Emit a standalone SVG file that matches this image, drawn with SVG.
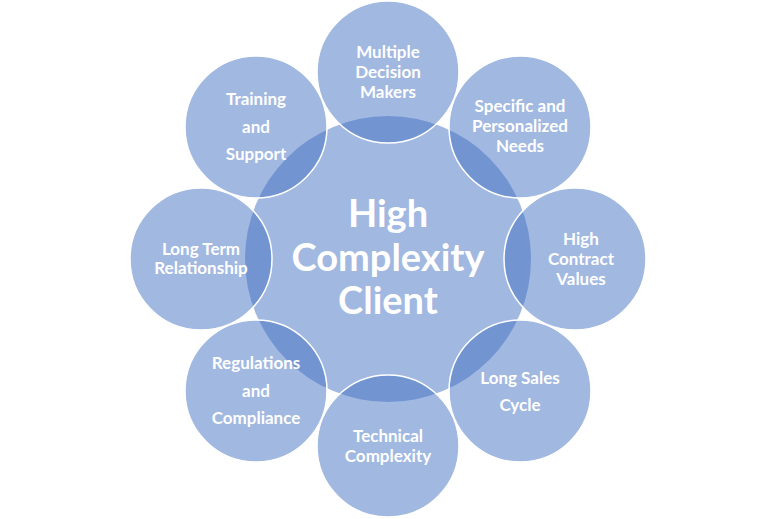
<svg xmlns="http://www.w3.org/2000/svg" width="777" height="519" viewBox="0 0 777 519">
<style>
.c{fill:#4472C4;fill-opacity:0.5;}
.s{fill:#4472C4;fill-opacity:0.5;stroke:#FFFFFF;stroke-width:1.5;}
.t{font-family:Lato,"Open Sans",sans-serif;font-weight:bold;font-size:17px;fill:#FFFFFF;text-anchor:middle;}
.h{font-family:Lato,"Open Sans",sans-serif;font-weight:bold;font-size:38px;fill:#FFFFFF;text-anchor:middle;}
</style>
<rect width="777" height="519" fill="#FFFFFF"/>
<g id="connectors"></g>
<g id="center">
<circle class="c" cx="388" cy="259" r="143"/>
<text class="h" x="388" y="227">High</text>
<text class="h" x="388" y="271">Complexity</text>
<text class="h" x="388" y="314">Client</text>
</g>
<g id="n-top">
<circle class="s" cx="388" cy="72" r="71"/>
<text class="t" x="388" y="58">Multiple</text>
<text class="t" x="388" y="78">Decision</text>
<text class="t" x="388" y="98">Makers</text>
</g>
<g id="n-topright">
<circle class="s" cx="520" cy="127" r="71"/>
<text class="t" x="520" y="112">Specific and</text>
<text class="t" x="520" y="132">Personalized</text>
<text class="t" x="520" y="152">Needs</text>
</g>
<g id="n-right">
<circle class="s" cx="575" cy="259" r="71"/>
<text class="t" x="581" y="245">High</text>
<text class="t" x="581" y="265">Contract</text>
<text class="t" x="581" y="285">Values</text>
</g>
<g id="n-bottomright">
<circle class="s" cx="520" cy="391" r="71"/>
<text class="t" x="520" y="384">Long Sales</text>
<text class="t" x="520" y="411">Cycle</text>
</g>
<g id="n-bottom">
<circle class="s" cx="388" cy="446" r="71"/>
<text class="t" x="388" y="442">Technical</text>
<text class="t" x="388" y="462">Complexity</text>
</g>
<g id="n-bottomleft">
<circle class="s" cx="256" cy="391" r="71"/>
<text class="t" x="256" y="369">Regulations</text>
<text class="t" x="256" y="397">and</text>
<text class="t" x="256" y="424">Compliance</text>
</g>
<g id="n-left">
<circle class="s" cx="201" cy="259" r="71"/>
<text class="t" x="201" y="255">Long Term</text>
<text class="t" x="201" y="274">Relationship</text>
</g>
<g id="n-topleft">
<circle class="s" cx="256" cy="127" r="71"/>
<text class="t" x="256" y="105">Training</text>
<text class="t" x="256" y="133">and</text>
<text class="t" x="256" y="160">Support</text>
</g>
</svg>
